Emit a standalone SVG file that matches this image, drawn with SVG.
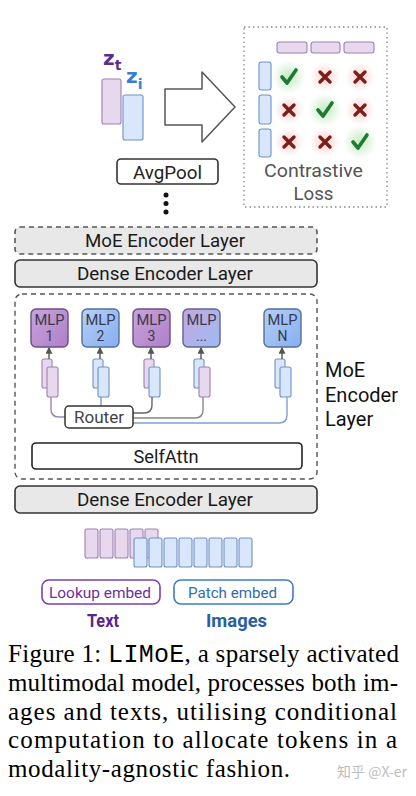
<svg xmlns="http://www.w3.org/2000/svg" width="416" height="796" viewBox="0 0 416 796">
<defs>
<style>
.sans{font-family:Roboto,"Open Sans","Liberation Sans",sans-serif;}
.layer{fill:#e8e8e8;stroke:#333;stroke-width:1.6;}
.dash{stroke-dasharray:5,4;stroke:#555;}
.lbl{font-size:19px;fill:#1a1a1a;text-anchor:middle;}
.mlpt{font-size:14px;fill:#3a3a48;text-anchor:middle;}
.mlpP{fill:url(#gP);stroke:#6b4f85;stroke-width:1.4;}
.mlpB{fill:url(#gB);stroke:#52709c;stroke-width:1.4;}
.mlpM{fill:url(#gM);stroke:#5f6590;stroke-width:1.4;}
.tP{fill:#e8d8ee;stroke:#9c82b4;stroke-width:1.1;}
.tB{fill:#d8e7fb;stroke:#7092c4;stroke-width:1.1;}
.ln{fill:none;stroke-width:1.4;}
.chk{fill:none;stroke:#1e7a30;stroke-width:3.6;stroke-linecap:round;stroke-linejoin:round;}
.crs{fill:none;stroke:#7a1e18;stroke-width:3.4;stroke-linecap:round;}
.cap{font-size:25px;fill:#000;}
</style>
<linearGradient id="gP" x1="0" y1="0" x2="1" y2="1"><stop offset="0" stop-color="#c9a4dc"/><stop offset="1" stop-color="#ad7fc8"/></linearGradient>
<linearGradient id="gB" x1="0" y1="0" x2="1" y2="1"><stop offset="0" stop-color="#b4d0f7"/><stop offset="1" stop-color="#86aef0"/></linearGradient>
<linearGradient id="gM" x1="0" y1="0" x2="1" y2="1"><stop offset="0" stop-color="#c6a6e0"/><stop offset="1" stop-color="#9dbcf2"/></linearGradient>
<radialGradient id="glowG"><stop offset="0" stop-color="#7cd07c" stop-opacity="0.45"/><stop offset="1" stop-color="#7cd07c" stop-opacity="0"/></radialGradient>
<radialGradient id="glowR"><stop offset="0" stop-color="#f08a8a" stop-opacity="0.4"/><stop offset="1" stop-color="#f08a8a" stop-opacity="0"/></radialGradient>
<marker id="ah" viewBox="0 0 6 6" refX="5" refY="3" markerWidth="5" markerHeight="5" orient="auto"><path d="M0,0 L6,3 L0,6 z" fill="#555"/></marker>
</defs>
<rect width="416" height="796" fill="#fff"/>

<g id="embeddings-out">
<rect x="102" y="79" width="19" height="45" rx="2" class="tP" stroke-width="1.5"/>
<rect x="123" y="95" width="20" height="45" rx="2" class="tB" stroke-width="1.5"/>
<text x="103" y="65" font-family="'DejaVu Sans',sans-serif" font-size="20" font-weight="bold" fill="#5b2d8e">z<tspan font-size="14" dy="5">t</tspan></text>
<text x="126" y="83" font-family="'DejaVu Sans',sans-serif" font-size="20" font-weight="bold" fill="#3a7bd5">z<tspan font-size="14" dy="6">i</tspan></text>
</g>

<g id="big-arrow">
<polygon points="165,89 202,89 202,72 235,107 202,142 202,125 165,125" fill="#fff" stroke="#555" stroke-width="1.5" stroke-linejoin="round"/>
</g>

<g id="avgpool">
<rect x="117" y="159" width="101" height="25" rx="4" fill="#fff" stroke="#333" stroke-width="1.6"/>
<text x="167.5" y="178.5" class="sans" font-size="18" fill="#222" text-anchor="middle" textLength="69" lengthAdjust="spacingAndGlyphs">AvgPool</text>
<circle cx="166" cy="195" r="2.5" fill="#111"/>
<circle cx="166" cy="203.5" r="2.5" fill="#111"/>
<circle cx="166" cy="212" r="2.5" fill="#111"/>
</g>

<g id="contrastive-loss">
<rect x="244" y="27" width="143" height="180" fill="none" stroke="#888" stroke-width="1.3" stroke-dasharray="1.5,3"/>
<rect x="277" y="42" width="30" height="11" rx="2.5" class="tP"/>
<rect x="311" y="42" width="29" height="11" rx="2.5" class="tP"/>
<rect x="344" y="42" width="30" height="11" rx="2.5" class="tP"/>
<rect x="259" y="62" width="12" height="28" rx="2.5" class="tB"/>
<rect x="259" y="95" width="12" height="29" rx="2.5" class="tB"/>
<rect x="259" y="129" width="12" height="28" rx="2.5" class="tB"/>
<circle cx="289" cy="77" r="17" fill="url(#glowG)"/>
<circle cx="325" cy="77" r="15" fill="url(#glowR)"/>
<circle cx="360" cy="77" r="15" fill="url(#glowR)"/>
<circle cx="289" cy="110" r="15" fill="url(#glowR)"/>
<circle cx="325" cy="110" r="17" fill="url(#glowG)"/>
<circle cx="360" cy="110" r="15" fill="url(#glowR)"/>
<circle cx="289" cy="142" r="15" fill="url(#glowR)"/>
<circle cx="325" cy="142" r="15" fill="url(#glowR)"/>
<circle cx="360" cy="142" r="17" fill="url(#glowG)"/>
<path class="chk" d="M282,77 L287,83 L296,70"/>
<path class="crs" d="M320,72 L330,82 M330,72 L320,82"/>
<path class="crs" d="M355,72 L365,82 M365,72 L355,82"/>
<path class="crs" d="M284,105 L294,115 M294,105 L284,115"/>
<path class="chk" d="M318,110 L323,116 L332,103"/>
<path class="crs" d="M355,105 L365,115 M365,105 L355,115"/>
<path class="crs" d="M284,137 L294,147 M294,137 L284,147"/>
<path class="crs" d="M320,137 L330,147 M330,137 L320,147"/>
<path class="chk" d="M353,142 L358,148 L367,135"/>
<text x="313.5" y="177" class="sans" font-size="19" fill="#555" text-anchor="middle" textLength="99" lengthAdjust="spacingAndGlyphs">Contrastive</text>
<text x="313.5" y="200" class="sans" font-size="19" fill="#555" text-anchor="middle" textLength="40" lengthAdjust="spacingAndGlyphs">Loss</text>
</g>

<g id="moe-layer-top">
<rect x="15" y="227" width="302" height="27" rx="5" class="layer dash"/>
<text x="165" y="247" class="sans lbl" textLength="160" lengthAdjust="spacingAndGlyphs">MoE Encoder Layer</text>
</g>

<g id="dense-layer-top">
<rect x="15" y="260" width="302" height="27" rx="5" class="layer"/>
<text x="165" y="280" class="sans lbl" textLength="176" lengthAdjust="spacingAndGlyphs">Dense Encoder Layer</text>
</g>

<g id="moe-layer">
<rect x="15" y="294" width="302" height="185" rx="7" fill="none" class="dash" stroke-width="1.4"/>
<text class="sans" font-size="20" fill="#111"><tspan x="325" y="377">MoE</tspan><tspan x="325" y="402">Encoder</tspan><tspan x="325" y="426">Layer</tspan></text>
</g>

<g id="mlp1">
<rect x="31" y="309" width="37" height="38" rx="5" class="mlpP"/>
<text x="49.5" y="324.5" class="sans mlpt" textLength="30" lengthAdjust="spacingAndGlyphs">MLP</text><text x="49.5" y="341" class="sans mlpt">1</text>
<rect x="42" y="359" width="10" height="29" rx="2" class="tP"/>
<rect x="47" y="367" width="11" height="30" rx="2" class="tP"/>
</g>
<g id="mlp2">
<rect x="82" y="309" width="37" height="38" rx="5" class="mlpB"/>
<text x="100.5" y="324.5" class="sans mlpt" textLength="30" lengthAdjust="spacingAndGlyphs">MLP</text><text x="100.5" y="341" class="sans mlpt">2</text>
<rect x="93" y="359" width="10" height="29" rx="2" class="tB"/>
<rect x="98" y="367" width="11" height="30" rx="2" class="tB"/>
</g>
<g id="mlp3">
<rect x="133" y="309" width="37" height="38" rx="5" class="mlpP"/>
<text x="151.5" y="324.5" class="sans mlpt" textLength="30" lengthAdjust="spacingAndGlyphs">MLP</text><text x="151.5" y="341" class="sans mlpt">3</text>
<rect x="144" y="359" width="10" height="29" rx="2" class="tP"/>
<rect x="149" y="367" width="11" height="30" rx="2" class="tB"/>
</g>
<g id="mlp-dots">
<rect x="183" y="309" width="37" height="38" rx="5" class="mlpM"/>
<text x="201.5" y="324.5" class="sans mlpt" textLength="30" lengthAdjust="spacingAndGlyphs">MLP</text><text x="201.5" y="341" class="sans mlpt" font-size="12">...</text>
<rect x="194" y="359" width="10" height="29" rx="2" class="tB"/>
<rect x="199" y="367" width="11" height="30" rx="2" class="tP"/>
</g>
<g id="mlpN">
<rect x="264" y="309" width="37" height="38" rx="5" class="mlpB"/>
<text x="282.5" y="324.5" class="sans mlpt" textLength="30" lengthAdjust="spacingAndGlyphs">MLP</text><text x="282.5" y="341" class="sans mlpt">N</text>
<rect x="275" y="359" width="10" height="29" rx="2" class="tB"/>
<rect x="280" y="367" width="11" height="30" rx="2" class="tB"/>
</g>

<g id="connectors">
<path class="ln" stroke="#9c84c0" d="M51,397 V409 Q51,417 59,417 H65"/>
<path class="ln" stroke="#7f98c0" d="M101,397 V406"/>
<path class="ln" stroke="#666" d="M133,413 H144 Q152,413 152,405 V397"/>
<path class="ln" stroke="#888" d="M133,418 H195 Q203,418 203,410 V397"/>
<path class="ln" stroke="#7fa0d0" d="M133,423 H279 Q287,423 287,415 V397"/>
<path class="ln" stroke="#555" stroke-width="1" marker-end="url(#ah)" d="M49,359 V348"/>
<path class="ln" stroke="#555" stroke-width="1" marker-end="url(#ah)" d="M100,359 V348"/>
<path class="ln" stroke="#555" stroke-width="1" marker-end="url(#ah)" d="M151,359 V348"/>
<path class="ln" stroke="#555" stroke-width="1" marker-end="url(#ah)" d="M201,359 V348"/>
<path class="ln" stroke="#555" stroke-width="1" marker-end="url(#ah)" d="M282,359 V348"/>
</g>

<g id="router">
<rect x="65" y="406" width="68" height="22" rx="4" fill="#fff" stroke="#333" stroke-width="1.5"/>
<text x="99" y="423" class="sans" font-size="16" fill="#444" text-anchor="middle" textLength="50" lengthAdjust="spacingAndGlyphs">Router</text>
</g>

<g id="selfattn">
<rect x="32" y="443" width="270" height="26" rx="4" fill="#fff" stroke="#222" stroke-width="1.6"/>
<text x="166" y="463" class="sans lbl" textLength="65" lengthAdjust="spacingAndGlyphs">SelfAttn</text>
</g>

<g id="dense-layer-bottom">
<rect x="15" y="486" width="302" height="27" rx="5" class="layer"/>
<text x="165" y="506" class="sans lbl" textLength="176" lengthAdjust="spacingAndGlyphs">Dense Encoder Layer</text>
</g>

<g id="tokens">
<rect x="85" y="529" width="13" height="29" rx="2" class="tP"/>
<rect x="100" y="529" width="13" height="29" rx="2" class="tP"/>
<rect x="115" y="529" width="13" height="29" rx="2" class="tP"/>
<rect x="130" y="529" width="13" height="29" rx="2" class="tP"/>
<rect x="145" y="529" width="13" height="29" rx="2" class="tP"/>
<rect x="134" y="538" width="13" height="29" rx="2" class="tB"/>
<rect x="149" y="538" width="13" height="29" rx="2" class="tB"/>
<rect x="164" y="538" width="13" height="29" rx="2" class="tB"/>
<rect x="179" y="538" width="13" height="29" rx="2" class="tB"/>
<rect x="194" y="538" width="13" height="29" rx="2" class="tB"/>
<rect x="209" y="538" width="13" height="29" rx="2" class="tB"/>
<rect x="224" y="538" width="13" height="29" rx="2" class="tB"/>
<rect x="239" y="538" width="13" height="29" rx="2" class="tB"/>
</g>

<g id="lookup-embed">
<rect x="42" y="580" width="118" height="24" rx="7" fill="#fff" stroke="#7a3fb0" stroke-width="1.6"/>
<text x="100" y="597.5" class="sans" font-size="15" fill="#6a2fa0" text-anchor="middle" textLength="102" lengthAdjust="spacingAndGlyphs">Lookup embed</text>
<text x="103" y="627" class="sans" font-size="18" font-weight="bold" fill="#5a2590" text-anchor="middle" textLength="32" lengthAdjust="spacingAndGlyphs">Text</text>
</g>
<g id="patch-embed">
<rect x="174" y="580" width="119" height="24" rx="7" fill="#fff" stroke="#3f7cc0" stroke-width="1.6"/>
<text x="232.5" y="597.5" class="sans" font-size="15" fill="#2f6cb0" text-anchor="middle" textLength="89" lengthAdjust="spacingAndGlyphs">Patch embed</text>
<text x="236.5" y="627" class="sans" font-size="18" font-weight="bold" fill="#2a5ea0" text-anchor="middle" textLength="61" lengthAdjust="spacingAndGlyphs">Images</text>
</g>

<g id="caption" font-family="Liberation Serif, Times New Roman, serif">
<text class="cap" x="8" y="662" textLength="391" lengthAdjust="spacing">Figure 1: <tspan font-family="Liberation Mono, Courier New, monospace">LIMoE</tspan>, a sparsely activated</text>
<text class="cap" x="8" y="691" textLength="390" lengthAdjust="spacing">multimodal model, processes both im-</text>
<text class="cap" x="8" y="720" textLength="389" lengthAdjust="spacing">ages and texts, utilising conditional</text>
<text class="cap" x="8" y="748" textLength="389" lengthAdjust="spacing">computation to allocate tokens in a</text>
<text class="cap" x="8" y="777" textLength="282" lengthAdjust="spacing">modality-agnostic fashion.</text>
<text x="337" y="777" font-family="'Noto Sans CJK SC',sans-serif" font-size="14" fill="#bdbdbd">知乎 @X-er</text>
</g>
</svg>
